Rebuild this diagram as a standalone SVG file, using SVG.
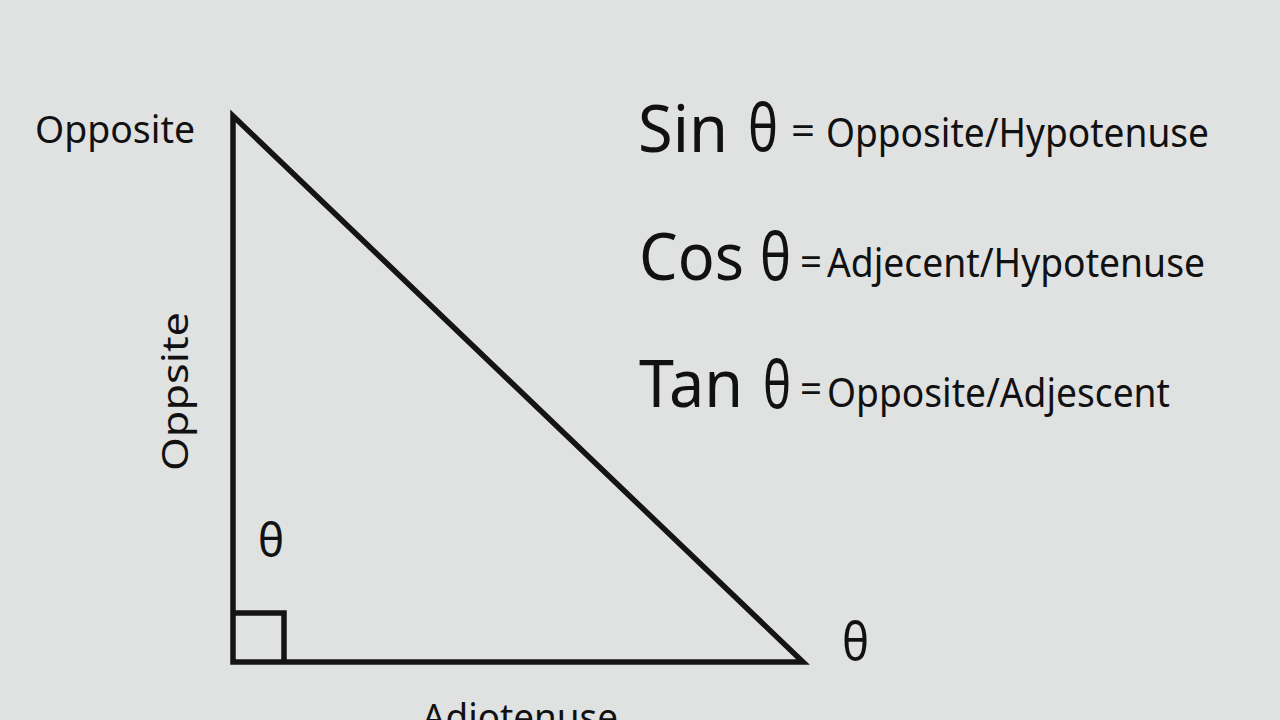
<svg xmlns="http://www.w3.org/2000/svg" width="1280" height="720" viewBox="0 0 1280 720">
<style>
text{font-family:"Noto Sans","Open Sans","DejaVu Sans",sans-serif;fill:#111;}
.big{font-size:66px;}
.mid{font-size:40px;}
.lbl{font-size:38px;}
.edge{fill:none;stroke:#141414;stroke-width:5.5;}
</style>
<rect width="1280" height="720" fill="#e0e1e1"/>
<g id="connectors">
<path class="edge" d="M233,116 L233,662 L803,662 Z" stroke-linejoin="miter" stroke-miterlimit="10"/>
<path class="edge" d="M233,613 L284,613 L284,662" stroke-width="5"/>
</g>
<g id="label-opposite-top"><text class="lbl" x="35" y="143" textLength="160" lengthAdjust="spacingAndGlyphs">Opposite</text></g>
<g id="label-opposite-side"><text transform="translate(188,471) rotate(-90)" x="0" y="0" font-size="36" textLength="159" lengthAdjust="spacingAndGlyphs">Oppsite</text></g>
<g id="theta-top"><text x="258" y="557" font-size="47" textLength="26" lengthAdjust="spacingAndGlyphs">θ</text></g>
<g id="theta-right"><text x="842" y="660" font-size="52" textLength="27" lengthAdjust="spacingAndGlyphs">θ</text></g>
<g id="label-adjacent"><text class="lbl" x="422" y="731" textLength="196" lengthAdjust="spacingAndGlyphs">Adjotenuse</text></g>
<g id="sin">
<text class="big" x="638" y="152" textLength="90" lengthAdjust="spacingAndGlyphs">Sin</text>
<text class="big" x="748" y="151" font-size="63" textLength="30" lengthAdjust="spacingAndGlyphs">θ</text>
<text class="mid" x="791" y="145" textLength="24" lengthAdjust="spacingAndGlyphs">=</text>
<text class="mid" x="826" y="147" textLength="383" lengthAdjust="spacingAndGlyphs">Opposite/Hypotenuse</text>
</g>
<g id="cos">
<text class="big" x="639" y="280" textLength="105" lengthAdjust="spacingAndGlyphs">Cos</text>
<text class="big" x="760" y="280" font-size="63" textLength="31" lengthAdjust="spacingAndGlyphs">θ</text>
<text class="mid" x="800" y="276" textLength="22" lengthAdjust="spacingAndGlyphs">=</text>
<text class="mid" x="827" y="277" textLength="378" lengthAdjust="spacingAndGlyphs">Adjecent/Hypotenuse</text>
</g>
<g id="tan">
<text class="big" x="639" y="407" textLength="104" lengthAdjust="spacingAndGlyphs">Tan</text>
<text class="big" x="763" y="408" font-size="63" textLength="28" lengthAdjust="spacingAndGlyphs">θ</text>
<text class="mid" x="800" y="403" textLength="22" lengthAdjust="spacingAndGlyphs">=</text>
<text class="mid" x="827" y="407" textLength="343" lengthAdjust="spacingAndGlyphs">Opposite/Adjescent</text>
</g>
</svg>
